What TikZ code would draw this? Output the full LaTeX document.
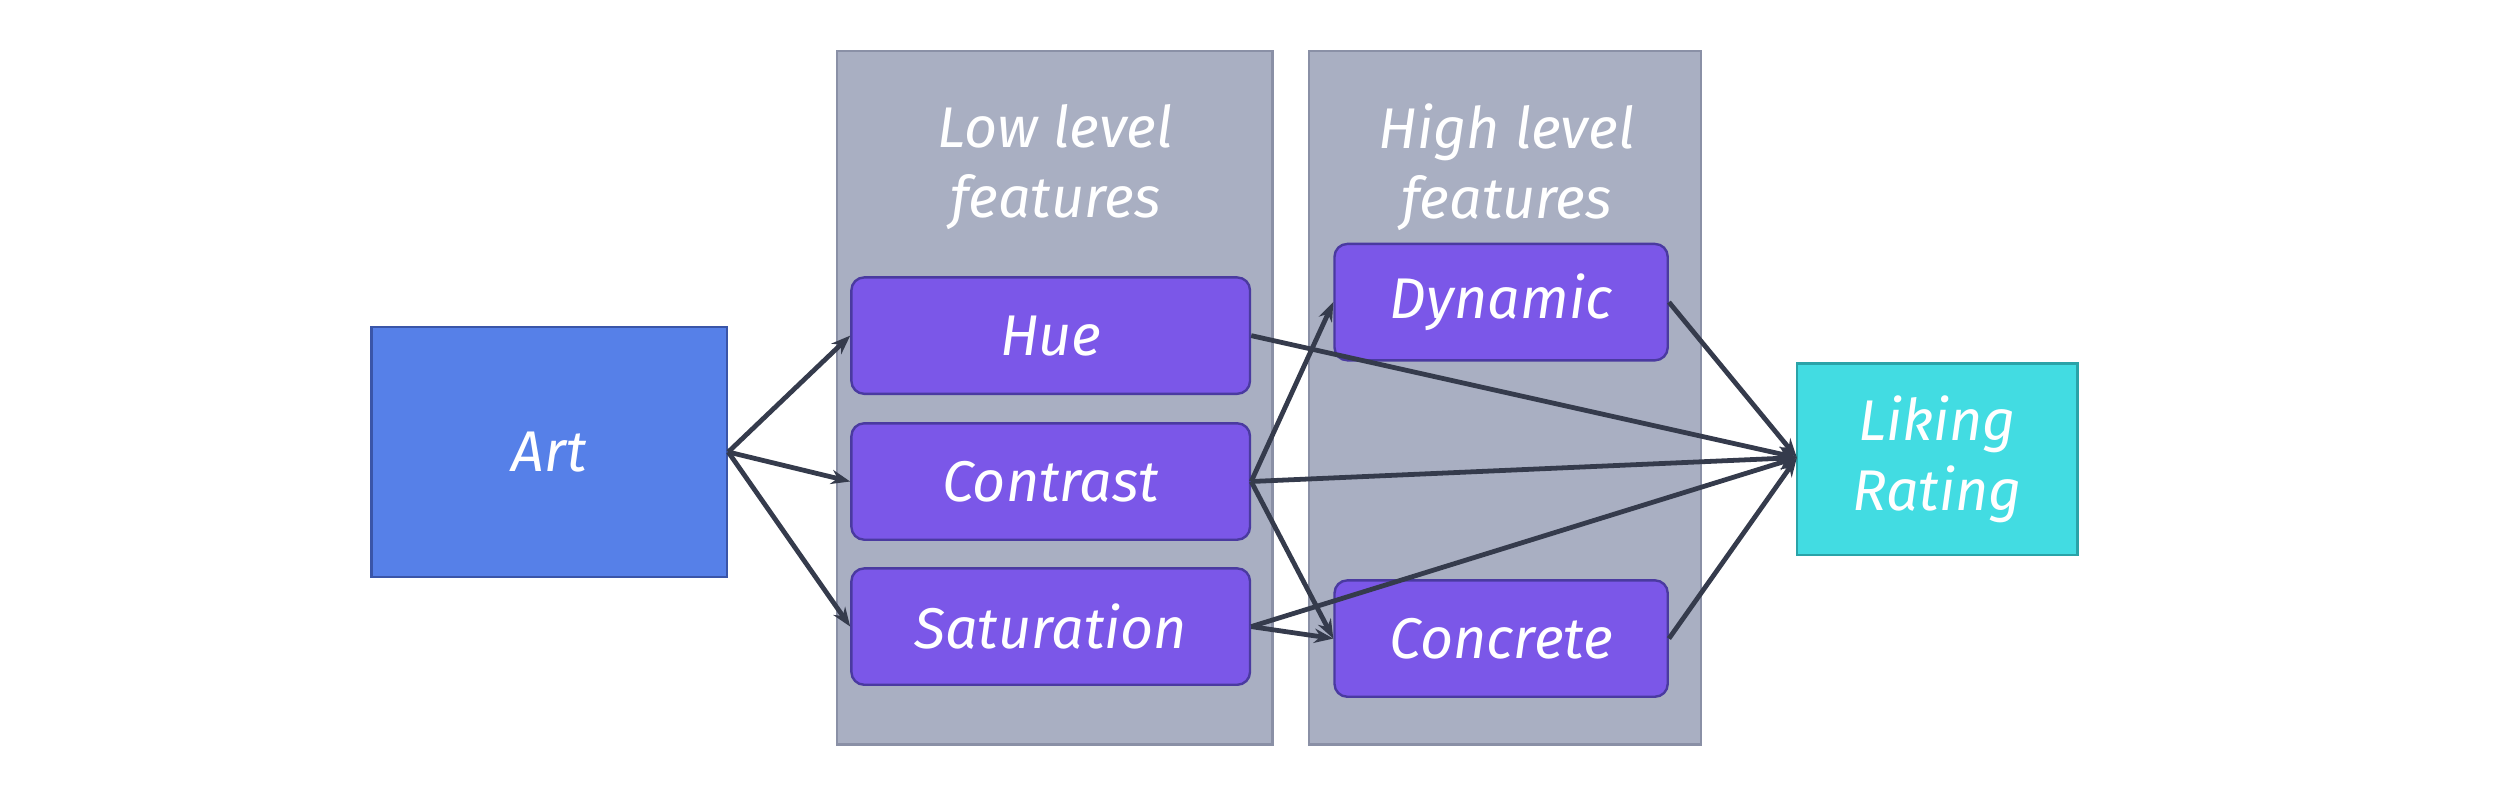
\documentclass[tikz,border=0pt]{standalone}
\usepackage{fontspec}
\setmainfont{Fira Sans}
\usetikzlibrary{arrows.meta,positioning}
\definecolor{artblue}{HTML}{5680E8}
\definecolor{artedge}{HTML}{3A55A8}
\definecolor{panelgray}{HTML}{A9AFC2}
\definecolor{paneledge}{HTML}{8A90A6}
\definecolor{featpurple}{HTML}{7B57E8}
\definecolor{featedge}{HTML}{4A3AA0}
\definecolor{likecyan}{HTML}{42DCE2}
\definecolor{likeedge}{HTML}{2AA3A8}
\definecolor{arrowdark}{HTML}{353B4C}
\tikzset{
  txt/.style={text=white,font=\fontsize{36}{44}\selectfont\itshape,align=center},
  panel/.style={draw=paneledge,fill=panelgray,line width=1.5pt},
  feat/.style={txt,draw=featedge,fill=featpurple,rounded corners=8pt,line width=1.5pt,minimum width=250pt,minimum height=73pt,inner sep=0pt},
  link/.style={-{Stealth[length=12pt,width=9pt]},draw=arrowdark,line width=3pt}
}
\begin{document}
\begin{tikzpicture}[x=1pt,y=-1pt]
	\useasboundingbox (0,0) rectangle (1568,495);

	% panels
	\draw[panel] (525,32) rectangle (798,467);
	\draw[panel] (821,32) rectangle (1067,467);
	\node[txt] (lowtitle) at (662,105) {Low level\\features};
	\node[txt] (hightitle) at (945,105) {High level\\features};

	% input and output
	\node[txt,draw=artedge,fill=artblue,line width=1.5pt,minimum width=223pt,minimum height=157pt] (art) at (344.5,283.5) {Art};
	\node[txt,draw=likeedge,fill=likecyan,line width=1.5pt,minimum width=176pt,minimum height=120pt] (liking) at (1215,288) {Liking\\Rating};

	% low level features
	\node[feat] (hue) at (659,210.5) {Hue};
	\node[feat] (contrast) at (659,302) {Contrast};
	\node[feat] (saturation) at (659,393) {Saturation};

	% high level features
	\node[feat,minimum width=209pt] (dynamic) at (941.5,189.5) {Dynamic};
	\node[feat,minimum width=209pt] (concrete) at (941.5,400.5) {Concrete};

	% connectors
	\coordinate (into) at (1127,287);
	\draw[link] (art.east) -- (hue.west);
	\draw[link] (art.east) -- (contrast.west);
	\draw[link] (art.east) -- (saturation.west);
	\draw[link] (hue.east) -- (into);
	\draw[link] (contrast.east) -- (dynamic.west);
	\draw[link] (contrast.east) -- (into);
	\draw[link] (contrast.east) -- (concrete.west);
	\draw[link] (saturation.east) -- (into);
	\draw[link] (saturation.east) -- (concrete.west);
	\draw[link] (dynamic.east) -- (into);
	\draw[link] (concrete.east) -- (into);

\end{tikzpicture}
\end{document}
